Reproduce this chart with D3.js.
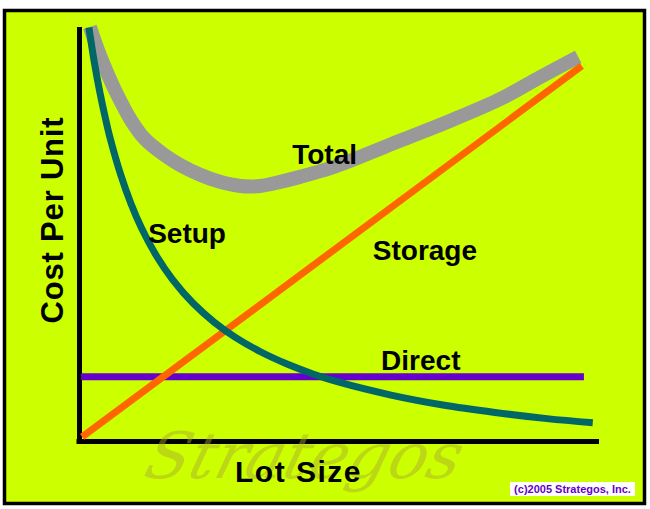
<!DOCTYPE html>
<html><head><meta charset="utf-8">
<script src="https://cdn.jsdelivr.net/npm/d3@7"></script>
<style>html,body{margin:0;padding:0;background:#fff;}svg{display:block;}</style>
</head><body>
<script>
// Lot size (0-100) vs cost per unit (0-100)
const setupX = [1.9, 3, 4, 5, 6, 8, 10, 12, 15, 18, 22, 26, 30, 35, 40, 45, 50, 60, 70, 80, 90, 98.8];
const setupY = [99.9, 91.1, 84.3, 78.4, 73.1, 64.4, 57.3, 51.5, 44.5, 39.0, 33.2, 28.7, 25.1, 21.5, 18.6, 16.2, 14.2, 11.1, 8.7, 6.9, 5.4, 4.4];
const totalX = [2.1, 3.65, 5.2, 7.1, 10.0, 12.7, 16.2, 19.4, 23.3, 27.1, 31.0, 34.8, 38.7, 42.5, 48.3, 54.0, 61.7, 71.3, 81.0, 88.7, 96.0];
const totalY = [100, 94.4, 89.6, 84.3, 77.5, 72.9, 69.3, 66.7, 64.3, 62.6, 61.6, 61.6, 62.6, 63.8, 65.9, 68.6, 72.5, 77.3, 82.6, 87.9, 92.8];
const storageX = [0.6, 96.7];
const storageY = [1.0, 90.6];
const directX = [0.4, 97.1];
const directY = [15.5, 15.5];
const labels = ["Total", "Setup", "Storage", "Direct"];
const labelX = [41, 13.3, 56.5, 58.1];
const labelY = [66.9, 47.8, 43.7, 17.1];
const xTitle = "Lot Size";
const yTitle = "Cost Per Unit";
const credit = "(c)2005 Strategos, Inc.";
const watermark = "Strategos";

const W = 650, H = 509;
const svg = d3.select("body").append("svg").attr("width", W).attr("height", H);
svg.append("rect").attr("x", 0).attr("y", 0).attr("width", W).attr("height", H).attr("fill", "#fff");
svg.append("rect").attr("x", 4.5).attr("y", 10.5).attr("width", 640).attr("height", 493)
  .attr("fill", "#CCFF00").attr("stroke", "#000").attr("stroke-width", 3.5);

const x = d3.scaleLinear().domain([0, 100]).range([79, 599]);
const y = d3.scaleLinear().domain([0, 100]).range([441, 27]);

// axes (no ticks)
const gx = svg.append("g").attr("transform", `translate(0,${y(0) + 0.5})`)
  .call(d3.axisBottom(x).tickValues([]).tickSizeOuter(0));
gx.select(".domain").attr("stroke", "#000").attr("stroke-width", 5)
  .attr("d", `M${x(0) - 2.5},0H${x(100)}`);
const gy = svg.append("g").attr("transform", `translate(${x(0) + 0.5},0)`)
  .call(d3.axisLeft(y).tickValues([]).tickSizeOuter(0));
gy.select(".domain").attr("stroke", "#000").attr("stroke-width", 5)
  .attr("d", `M0,${y(100)}V${y(0) + 3}`);

const line = d3.line().x(d => x(d[0])).y(d => y(d[1]));
const lineB = d3.line().x(d => x(d[0])).y(d => y(d[1])).curve(d3.curveCatmullRom.alpha(0.5));

function pts(a, b) { return a.map((v, i) => [v, b[i]]); }

svg.append("path").attr("d", lineB(pts(totalX, totalY))).attr("fill", "none")
  .attr("stroke", "#999999").attr("stroke-width", 14).attr("stroke-linecap", "butt");
svg.append("path").attr("d", line(pts(directX, directY))).attr("fill", "none")
  .attr("stroke", "#6600CC").attr("stroke-width", 7);
svg.append("path").attr("d", line(pts(storageX, storageY))).attr("fill", "none")
  .attr("stroke", "#FF6600").attr("stroke-width", 7);
svg.append("path").attr("d", lineB(pts(setupX, setupY))).attr("fill", "none")
  .attr("stroke", "#006666").attr("stroke-width", 7);

// watermark
svg.append("text").attr("x", 150).attr("y", 478).text(watermark)
  .attr("font-family", "DejaVu Serif").attr("font-style", "italic")
  .attr("font-size", 64).attr("fill", "#a8a830").attr("opacity", 0.45)
  .attr("transform", "skewX(-15) translate(120,0)");

labels.forEach((t, i) => {
  svg.append("text").attr("x", x(labelX[i])).attr("y", y(labelY[i])).text(t)
    .attr("font-family", "Liberation Sans, Arial").attr("font-weight", "bold")
    .attr("font-size", 28).attr("fill", "#000");
});

svg.append("text").attr("x", 298.5).attr("y", 482).attr("text-anchor", "middle").text(xTitle)
  .attr("font-family", "Liberation Sans, Arial").attr("font-weight", "bold")
  .attr("font-size", 30).attr("letter-spacing", 1.5).attr("fill", "#000");
svg.append("text").attr("transform", "translate(63,220) rotate(-90)").attr("text-anchor", "middle").text(yTitle)
  .attr("font-family", "Liberation Sans, Arial").attr("font-weight", "bold")
  .attr("font-size", 31).attr("letter-spacing", 0.8).attr("fill", "#000");

svg.append("rect").attr("x", 510).attr("y", 482).attr("width", 125).attr("height", 14).attr("fill", "#fff");
svg.append("text").attr("x", 572.5).attr("y", 493).attr("text-anchor", "middle").text(credit)
  .attr("font-family", "Liberation Sans, Arial").attr("font-weight", "bold")
  .attr("font-size", 11).attr("fill", "#6600CC");
</script>
</body></html>
